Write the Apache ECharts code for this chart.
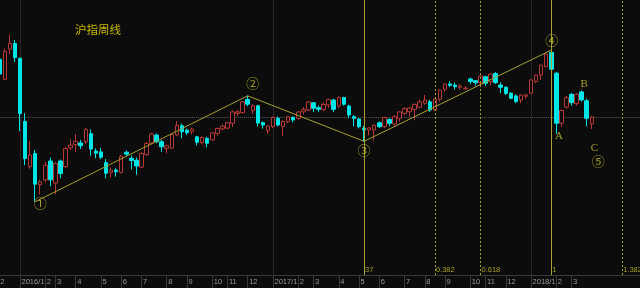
<!DOCTYPE html>
<html><head><meta charset="utf-8">
<script src="https://cdn.jsdelivr.net/npm/echarts@6/dist/echarts.min.js"></script>
<style>html,body{margin:0;padding:0;background:#0c0c0c;}#c{width:640px;height:288px;}</style>
</head><body><div id="c"></div>
<script>
// weekly categories (Friday dates), index -5 .. 123
const weeks = [
'2015-12-04','2015-12-11','2015-12-18','2015-12-25','2015-12-31',
'2016-01-08','2016-01-15','2016-01-22','2016-01-29','2016-02-05','2016-02-19','2016-02-26','2016-03-04','2016-03-11','2016-03-18','2016-03-25',
'2016-04-01','2016-04-08','2016-04-15','2016-04-22','2016-04-29','2016-05-06','2016-05-13','2016-05-20','2016-05-27','2016-06-03','2016-06-08',
'2016-06-17','2016-06-24','2016-07-01','2016-07-08','2016-07-15','2016-07-22','2016-07-29','2016-08-05','2016-08-12','2016-08-19','2016-08-26',
'2016-09-02','2016-09-09','2016-09-14','2016-09-23','2016-09-30','2016-10-14','2016-10-21','2016-10-28','2016-11-04','2016-11-11','2016-11-18',
'2016-11-25','2016-12-02','2016-12-09','2016-12-16','2016-12-23','2016-12-30',
'2017-01-06','2017-01-13','2017-01-20','2017-01-26','2017-02-03','2017-02-10','2017-02-17','2017-02-24','2017-03-03','2017-03-10','2017-03-17',
'2017-03-24','2017-03-31','2017-04-07','2017-04-14','2017-04-21','2017-04-28','2017-05-05','2017-05-12','2017-05-19','2017-05-26','2017-06-02',
'2017-06-09','2017-06-16','2017-06-23','2017-06-30','2017-07-07','2017-07-14','2017-07-21','2017-07-28','2017-08-04','2017-08-11','2017-08-18',
'2017-08-25','2017-09-01','2017-09-08','2017-09-15','2017-09-22','2017-09-29','2017-10-13','2017-10-20','2017-10-27','2017-11-03','2017-11-10',
'2017-11-17','2017-11-24','2017-12-01','2017-12-08','2017-12-15','2017-12-22','2017-12-29',
'2018-01-05','2018-01-12','2018-01-19','2018-01-26','2018-02-02','2018-02-09','2018-02-14','2018-02-23','2018-03-02','2018-03-09','2018-03-16',
'2018-03-23','2018-03-30',
'2018-04-04','2018-04-13','2018-04-20','2018-04-27','2018-05-04','2018-05-11','2018-05-18','2018-05-25','2018-06-01','2018-06-08'
];
const tickLabels = {
'2015-12-04':'12','2016-01-08':'2016/1','2016-02-19':'2','2016-03-04':'3','2016-04-01':'4','2016-05-06':'5','2016-06-03':'6',
'2016-07-01':'7','2016-08-05':'8','2016-09-02':'9','2016-10-14':'10','2016-11-04':'11','2016-12-02':'12',
'2017-01-06':'2017/1','2017-02-10':'2','2017-03-03':'3','2017-04-07':'4','2017-05-05':'5','2017-06-02':'6','2017-07-07':'7',
'2017-08-04':'8','2017-09-01':'9','2017-10-13':'10','2017-11-03':'11','2017-12-01':'12',
'2018-01-05':'2018/1','2018-02-09':'2','2018-03-02':'3'
};
const yearTicks = ['2016-01-08','2017-01-06','2018-01-05'];

const opens = [3433,3530,3404,3592,3628,
3536,3140,2857,2940,2745,2775,2893,2755,2893,2858,2975,2995,3006,3014,3064,2955,2950,2882,2821,2836,2822,2948,2910,2898,2855,2932,
3005,3055,3014,2972,2973,3056,3113,3086,3076,3044,3008,3034,3025,3066,3094,3099,3129,3191,3195,3278,3208,3238,3133,3082,
3108,3160,3108,3139,3165,3160,3201,3212,3257,3226,3216,3243,3274,3237,3290,3237,3170,3156,3097,3087,3088,3132,3108,3153,3124,3160,
3191,3201,3216,3229,3254,3263,3212,3279,3341,3375,3368,3354,3345,3406,3395,3383,3420,3389,3440,3368,3354,3316,3300,3275,3298,
3316,3389,3431,3483,3573,3442,3130,3230,3310,3252,3325,3270,3125];
const closes = [3525,3437,3578,3628,3540,
3190,2908,2930,2748,2763,2866,2775,2878,2815,2970,2992,3016,2988,3090,2968,2942,2917,2817,2836,2826,2922,2936,2896,2862,2940,3002,
3062,3014,2982,2988,3060,3116,3076,3070,3092,3010,3040,3004,3069,3096,3111,3132,3200,3200,3263,3248,3238,3130,3118,3111,
3165,3118,3140,3169,3150,3200,3215,3262,3223,3216,3247,3278,3216,3290,3248,3181,3160,3108,3088,3100,3117,3108,3165,3129,3170,3200,
3221,3225,3247,3263,3274,3212,3280,3336,3374,3366,3358,3362,3349,3390,3383,3424,3379,3436,3383,3354,3316,3285,3264,3305,3307,
3400,3431,3493,3562,3467,3129,3209,3289,3258,3310,3275,3160,3168];
const lows = [3327,3410,3400,3560,3514,
3080,2867,2844,2638,2683,2760,2735,2685,2785,2850,2962,2950,2968,3000,2925,2910,2905,2785,2790,2795,2815,2925,2840,2807,2850,2925,
2995,3005,2950,2941,2968,3050,3035,3055,3060,2990,2998,2979,3020,3050,3085,3090,3105,3173,3190,3235,3188,3108,3095,3060,
3100,3110,3050,3130,3135,3150,3185,3205,3200,3200,3205,3225,3200,3225,3240,3160,3110,3097,3016,3052,3022,3100,3100,3110,3115,3140,
3180,3170,3150,3225,3245,3200,3205,3265,3325,3355,3340,3340,3340,3374,3365,3366,3362,3365,3375,3318,3305,3280,3255,3255,3283,
3314,3380,3400,3480,3430,3062,3105,3220,3240,3240,3265,3110,3093];
const highs = [3598,3552,3597,3684,3650,
3538,3192,3020,2962,2774,2888,2916,2885,2902,2982,3030,3062,3025,3100,3090,2972,2975,2905,2852,2850,2930,2958,2928,2915,2948,3012,
3070,3065,3025,2996,3064,3142,3126,3095,3102,3050,3047,3045,3072,3102,3122,3138,3210,3212,3268,3301,3250,3245,3140,3118,
3172,3170,3148,3175,3172,3205,3230,3266,3262,3240,3260,3282,3282,3296,3295,3245,3180,3160,3112,3106,3122,3140,3170,3160,3180,3205,
3230,3232,3252,3277,3306,3276,3286,3342,3380,3392,3385,3375,3360,3415,3400,3428,3426,3440,3450,3385,3360,3325,3310,3308,3312,
3403,3435,3496,3573,3587,3450,3215,3300,3318,3316,3335,3283,3175];

// wave turning points (week index, value)
const waveIdx = [3, 45, 68, 105];
const waveVal = [2638, 3301, 3016, 3587];
// Fibonacci time lines measured from point 3 to point 4
const fibIdx = [68, 82, 91, 105, 119];
const fibText = ['37', '0.382', '0.618', '1', '1.382'];
const fibSolid = [true, false, false, true, false];
// annotations
const noteText = ['①','②','③','④','A','B','C','⑤'];
const noteIdx = [4, 46, 68, 105.1, 106.5, 111.5, 113.5, 114.3];
const noteVal = [2630, 3383, 2962, 3650, 3049, 3375, 2976, 2895];

const Y_MIN = 2180, Y_MAX = 3900;
const FIRST = -5;
const N = weeks.length;
const BG = '#0c0c0c';
const YEL = '#c8c030';
const LINE = '#a6a232';

const candleData = opens.map((o, i) => [o, closes[i], lows[i], highs[i]]);
const wave = waveIdx.map((x, i) => [x, waveVal[i]]);
const fibLabelY = Y_MIN + 32;

const chart = echarts.init(document.getElementById('c'), null, {renderer: 'canvas'});
const band = 5.06;
const smallFont = "'Liberation Sans', Arial, sans-serif";
chart.setOption({
  backgroundColor: BG,
  animation: false,
  title: {text: '沪指周线', left: 70, top: 19, textStyle: {color: '#ccbb00', fontSize: 11.5, fontWeight: 'normal', fontFamily: "'Noto Sans CJK SC', sans-serif"}},
  grid: {left: 20 - 5.5 * band, top: 0, width: N * band, height: 275, containLabel: false, outerBoundsMode: 'none'},
  xAxis: [{
    type: 'category', data: weeks, boundaryGap: true,
    axisLine: {show: true, lineStyle: {color: '#3a3a3a'}},
    axisTick: {show: true, alignWithLabel: true, length: 13, interval: (i, v) => !!tickLabels[v], lineStyle: {color: '#3a3a3a'}},
    axisLabel: {show: true, interval: (i, v) => !!tickLabels[v], formatter: v => tickLabels[v] || '', align: 'left', margin: 3,
      padding: [0, 0, 0, 1.5], color: '#9a9a9a', fontSize: 7.5, fontFamily: smallFont, hideOverlap: false},
    splitLine: {show: false}
  }, {
    type: 'value', min: FIRST - 0.5, max: FIRST + N - 0.5, show: false
  }],
  yAxis: {type: 'value', min: Y_MIN, max: Y_MAX, show: false, splitLine: {show: false}},
  series: [{
    type: 'candlestick', xAxisIndex: 0, data: candleData, barWidth: 4, z: 3,
    itemStyle: {color: BG, color0: '#00e6e6', borderColor: '#b83838', borderColor0: '#00e6e6', borderWidth: 1},
    markLine: {silent: true, symbol: 'none', label: {show: false}, z: 1,
      lineStyle: {color: '#5a5a5a', type: 'dotted', width: 1},
      data: [{yAxis: closes[closes.length - 1]}].concat(
        yearTicks.map(v => ({xAxis: v, lineStyle: {color: '#262626', type: 'solid', width: 1}})))}
  }, {
    type: 'line', xAxisIndex: 1, data: wave, symbol: 'none', silent: true, z: 4,
    lineStyle: {color: LINE, width: 1}
  }, {
    type: 'scatter', xAxisIndex: 1, symbolSize: 0, silent: true, z: 4,
    data: fibIdx.map((x, i) => ({value: [x, fibLabelY], label: {formatter: fibText[i]}})),
    label: {show: true, position: 'right', distance: 1, color: YEL, fontSize: 7.5, fontFamily: smallFont},
    markLine: {silent: true, symbol: 'none', label: {show: false}, emphasis: {disabled: true},
      data: fibIdx.map((x, i) => ({xAxis: x, lineStyle: {color: LINE, opacity: 1, width: 1, type: fibSolid[i] ? 'solid' : [2, 2]}}))}
  }, {
    type: 'scatter', xAxisIndex: 1, symbolSize: 0, silent: true, z: 5,
    data: noteIdx.map((x, i) => {
      const circ = /[①-⑤]/.test(noteText[i]);
      return {value: [x, noteVal[i]], label: {formatter: noteText[i],
        fontFamily: circ ? "'Noto Sans CJK SC', sans-serif" : "'Liberation Serif', serif",
        fontSize: circ ? 13 : 11}};
    }),
    label: {show: true, position: 'inside', color: YEL}
  }]
});
</script></body></html>
